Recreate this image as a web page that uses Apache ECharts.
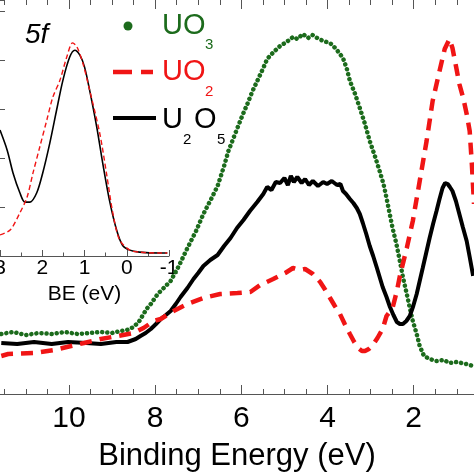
<!DOCTYPE html>
<html><head><meta charset="utf-8">
<script src="https://cdn.jsdelivr.net/npm/echarts@6/dist/echarts.min.js"></script>
<style>html,body{margin:0;padding:0;background:#fff}#c{width:474px;height:474px}</style>
</head><body><div id="c"></div>
<script>
// ---- main panel data: binding energy (eV) and intensity (arb. units) ----
const uo3E = [11.57,11.3,11.0,10.7,10.4,10.1,9.8,9.5,9.26,9.0,8.80,8.65,8.50,8.38,8.27,8.18,8.10,7.94,7.80,7.64,7.45,7.25,7.05,6.88,6.70,6.55,6.40,6.30,6.10,5.98,5.86,5.75,5.63,5.50,5.40,5.25,5.10,4.95,4.80,4.70,4.57,4.45,4.35,4.24,4.10,3.94,3.80,3.64,3.55,3.48,3.36,3.25,3.13,3.02,2.90,2.79,2.70,2.63,2.56,2.49,2.40,2.32,2.25,2.16,2.09,2.02,1.93,1.86,1.76,1.63,1.47,1.30,1.17,1.00,0.78,0.62];
const uo3I = [60,62,59,61,60,62,60,61,62,61,63,64,67,72,80,86,90,100,106,113,128,146,163,180,195,208,228,243,265,278,290,302,313,325,335,342,348,352,357,355,360,356,359,356,353,351,345,336,325,313,300,286,270,253,238,223,210,196,181,166,150,133,117,100,86,73,60,48,38,35,33,34,31,32,30,28];

const uo2E = [11.57,11.41,10.81,10.35,9.95,9.65,9.26,8.87,8.50,8.27,8.03,7.87,7.57,7.25,6.88,6.49,6.09,5.79,5.56,5.26,4.98,4.80,4.65,4.52,4.34,4.17,4.05,3.94,3.83,3.71,3.60,3.48,3.38,3.29,3.20,3.13,3.04,2.95,2.84,2.72,2.63,2.49,2.39,2.32,2.16,2.02,1.86,1.70,1.56,1.40,1.28,1.17,1.10,1.01,0.94,0.85,0.77,0.70,0.65,0.60];
const uo2I = [38,40,41,44,48,51,55,58,61,66,73,75,83,90,96,100,101,102,109,115,121,126,124,125,120,112,104,96,88,80,70,60,52,46,43,43,45,49,56,65,78,86,103,118,146,173,213,253,293,323,345,355,346,326,310,296,280,263,230,190];

const u2o5E = [11.57,11.2,10.81,10.4,10.02,9.6,9.26,8.9,8.64,8.45,8.34,8.22,8.10,7.98,7.87,7.75,7.64,7.52,7.41,7.25,7.11,7.0,6.88,6.72,6.55,6.40,6.25,6.10,5.95,5.80,5.63,5.49,5.40,5.30,5.20,5.10,5.00,4.92,4.85,4.78,4.70,4.60,4.52,4.43,4.34,4.22,4.10,4.01,3.90,3.78,3.70,3.64,3.57,3.48,3.40,3.32,3.25,3.18,3.10,3.02,2.94,2.86,2.79,2.72,2.63,2.55,2.47,2.39,2.32,2.25,2.17,2.09,2.01,1.93,1.86,1.79,1.71,1.63,1.55,1.47,1.40,1.33,1.27,1.21,1.16,1.10,1.02,0.94,0.86,0.77,0.70,0.62];
const u2o5I = [51,50,52,50,52,51,50,52,52,55,58,61,65,70,75,79,83,90,97,106,115,121,128,134,139,148,156,166,174,183,192,200,207,204,212,211,216,209,218,212,217,211,215,209,213,208,212,210,213,209,210,203,200,195,191,186,180,171,160,148,138,127,117,107,97,87,79,72,70,70,73,78,88,100,113,126,141,156,170,183,195,206,211,210,207,203,193,180,167,153,137,118];

// ---- inset (5f region) data ----
const insetUO2E = [3.00,2.76,2.53,2.36,2.22,2.06,1.89,1.75,1.58,1.42,1.28,1.18,1.04,0.88,0.64,0.48,0.33,0.17,-0.07,-0.30,-0.77,-0.96];
const insetUO2I = [0.43,0.53,0.88,1.20,1.69,2.22,2.78,3.24,3.59,4.06,4.35,4.27,3.94,3.39,2.51,1.69,0.88,0.33,0.12,0.08,0.06,0.06];
const insetU2O5E = [3.00,2.83,2.69,2.53,2.41,2.29,2.13,1.99,1.82,1.66,1.51,1.35,1.23,1.11,1.00,0.88,0.71,0.57,0.41,0.24,0.10,-0.07,-0.30,-0.77,-0.96];
const insetU2O5I = [2.57,2.16,1.69,1.29,1.10,1.10,1.29,1.69,2.31,2.98,3.59,4.06,4.20,4.10,3.86,3.39,2.63,1.90,1.14,0.53,0.22,0.12,0.08,0.06,0.06];

// ---- axis ticks ----
const mainMajorTicks = [2,4,6,8,10];
const mainMinorTicks = [1,1.5,2.5,3,3.5,4.5,5,5.5,6.5,7,7.5,8.5,9,9.5,10.5,11,11.5];

const GREEN = '#1c6b1c', RED = '#f01515', BLACK = '#000000', AX = '#555555';
const FONT = 'Liberation Sans, Arial, sans-serif';
const zip = (a, b) => a.map((v, i) => [v, b[i]]);

const chart = echarts.init(document.getElementById('c'));
const baseX = { type: 'value', min: 0.6, max: 11.6, inverse: true, splitLine: { show: false } };

chart.setOption({
  animation: false,
  backgroundColor: '#fff',
  grid: [
    { left: 0, right: 0, top: 0, bottom: 80, containLabel: false, outerBoundsMode: 'none' },
    { left: 0, top: 0, width: 169, height: 256, containLabel: false, outerBoundsMode: 'none' }
  ],
  xAxis: [
    Object.assign({}, baseX, { gridIndex: 0, position: 'bottom',
      name: 'Binding Energy (eV)', nameLocation: 'middle', nameGap: 47,
      nameTextStyle: { fontSize: 31, color: BLACK, fontFamily: FONT },
      axisLine: { show: true, onZero: false, lineStyle: { color: AX, width: 1 } },
      axisTick: { show: true, inside: true, length: 9, customValues: mainMajorTicks, lineStyle: { color: AX } },
      axisLabel: { show: true, customValues: mainMajorTicks, fontSize: 30, color: BLACK, margin: 10, fontFamily: FONT } }),
    Object.assign({}, baseX, { gridIndex: 0, position: 'bottom',
      axisLine: { show: false, onZero: false },
      axisTick: { show: true, inside: true, length: 5, customValues: mainMinorTicks, lineStyle: { color: AX } },
      axisLabel: { show: false } }),
    Object.assign({}, baseX, { gridIndex: 0, position: 'top',
      axisLine: { show: false, onZero: false },
      axisTick: { show: true, inside: true, length: 9, customValues: mainMajorTicks, lineStyle: { color: AX } },
      axisLabel: { show: false } }),
    Object.assign({}, baseX, { gridIndex: 0, position: 'top',
      axisLine: { show: false, onZero: false },
      axisTick: { show: true, inside: true, length: 5, customValues: mainMinorTicks, lineStyle: { color: AX } },
      axisLabel: { show: false } }),
    { gridIndex: 1, type: 'value', min: -1, max: 3, interval: 1, inverse: true, position: 'bottom',
      splitLine: { show: false },
      name: 'BE (eV)', nameLocation: 'middle', nameGap: 22,
      nameTextStyle: { fontSize: 21, color: BLACK, fontFamily: FONT },
      axisLine: { show: true, onZero: false, lineStyle: { color: AX, width: 1 } },
      axisTick: { show: true, inside: true, length: 6, lineStyle: { color: AX } },
      minorTick: { show: true, splitNumber: 2, length: 3.5, lineStyle: { color: AX } },
      axisLabel: { fontSize: 21, color: BLACK, margin: 2, fontFamily: FONT, showMinLabel: true, showMaxLabel: true,
        alignMinLabel: 'center', alignMaxLabel: 'center' } }
  ],
  yAxis: [
    { gridIndex: 0, type: 'value', min: 0, max: 394, show: false, splitLine: { show: false } },
    { gridIndex: 1, type: 'value', min: 0, max: 5.2245, interval: 1, position: 'left',
      splitLine: { show: false },
      axisLine: { show: false, onZero: false },
      axisTick: { show: true, inside: true, length: 5, lineStyle: { color: AX } },
      axisLabel: { show: false } }
  ],
  series: [
    { name: 'UO3', type: 'line', xAxisIndex: 0, yAxisIndex: 0, data: zip(uo3E, uo3I),
      showSymbol: false, smooth: false, z: 3,
      lineStyle: { color: GREEN, width: 4.5, type: [0.1, 5], cap: 'round' } },
    { name: 'U2O5', type: 'line', xAxisIndex: 0, yAxisIndex: 0, data: zip(u2o5E, u2o5I),
      showSymbol: false, z: 4,
      lineStyle: { color: BLACK, width: 4 } },
    { name: 'UO2', type: 'line', xAxisIndex: 0, yAxisIndex: 0, data: zip(uo2E, uo2I),
      showSymbol: false, z: 5,
      lineStyle: { color: RED, width: 4.5, type: [12, 8] } },
    { name: 'inset U2O5', type: 'line', xAxisIndex: 4, yAxisIndex: 1, data: zip(insetU2O5E, insetU2O5I),
      showSymbol: false, smooth: 0.3, z: 6,
      lineStyle: { color: BLACK, width: 1.6 } },
    { name: 'inset UO2', type: 'line', xAxisIndex: 4, yAxisIndex: 1, data: zip(insetUO2E, insetUO2I),
      showSymbol: false, smooth: 0.3, z: 7,
      lineStyle: { color: RED, width: 1.4, type: [5, 3] } }
  ],
  graphic: [
    { type: 'text', left: 25, top: 21, style: { text: '5f', font: 'italic 28px ' + FONT, fill: BLACK } },
    { type: 'circle', shape: { cx: 128, cy: 26, r: 4.5 }, style: { fill: GREEN } },
    { type: 'line', shape: { x1: 113, y1: 72, x2: 153, y2: 72 }, style: { stroke: RED, lineWidth: 4.5, lineDash: [19, 9] } },
    { type: 'line', shape: { x1: 113, y1: 118, x2: 156, y2: 118 }, style: { stroke: BLACK, lineWidth: 4 } },
    { type: 'text', x: 162, y: 26, style: { text: 'UO', font: '29px ' + FONT, fill: GREEN, verticalAlign: 'middle' } },
    { type: 'text', x: 205, y: 45, style: { text: '3', font: '15px ' + FONT, fill: GREEN, verticalAlign: 'middle' } },
    { type: 'text', x: 162, y: 72, style: { text: 'UO', font: '29px ' + FONT, fill: RED, verticalAlign: 'middle' } },
    { type: 'text', x: 205, y: 92, style: { text: '2', font: '15px ' + FONT, fill: RED, verticalAlign: 'middle' } },
    { type: 'text', x: 162, y: 120, style: { text: 'U', font: '29px ' + FONT, fill: BLACK, verticalAlign: 'middle' } },
    { type: 'text', x: 183, y: 140, style: { text: '2', font: '15px ' + FONT, fill: BLACK, verticalAlign: 'middle' } },
    { type: 'text', x: 194, y: 120, style: { text: 'O', font: '29px ' + FONT, fill: BLACK, verticalAlign: 'middle' } },
    { type: 'text', x: 217, y: 140, style: { text: '5', font: '15px ' + FONT, fill: BLACK, verticalAlign: 'middle' } }
  ]
});
</script></body></html>
